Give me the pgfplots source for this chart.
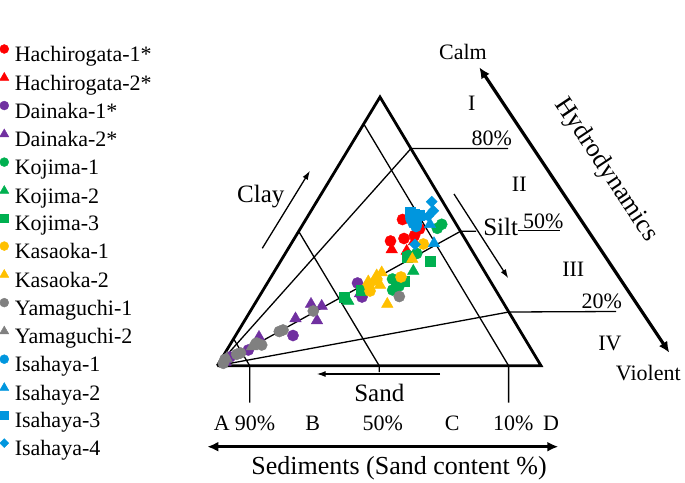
\documentclass[border=0pt]{standalone}
\usepackage{fontspec}
\setmainfont{Liberation Serif}
\usepackage{pgfplots}
\pgfplotsset{compat=1.18}
\usetikzlibrary{arrows.meta}
\definecolor{cred}{RGB}{255,0,0}
\definecolor{cpur}{RGB}{112,48,160}
\definecolor{cgrn}{RGB}{0,176,80}
\definecolor{cyel}{RGB}{255,192,0}
\definecolor{cgry}{RGB}{128,128,128}
\definecolor{cblu}{RGB}{0,150,222}
\pgfplotsset{
  leg/.style={legend image code/.code={\draw[##1, every mark/.append style={scale=0.8}] plot coordinates {(0pt,7.6pt)};}},
  ser/.style n args={3}{only marks, mark=#1, color=#2, mark size=#3, mark options={draw=#2, fill=#2, solid}, leg},
  dia/.style={only marks, mark=square*, color=#1, mark size=3.9, mark options={draw=#1, fill=#1, solid, rotate=45}, leg},
}
\newcommand{\fs}[1]{\fontsize{#1}{#1}\selectfont}
\begin{document}
\begin{tikzpicture}
\path[use as bounding box] (0,0) rectangle (685pt,482pt);
\begin{axis}[at={(0,0)}, anchor=south west, scale only axis, width=685pt, height=482pt,
  xmin=0, xmax=685, ymin=0, ymax=482, y dir=reverse, hide axis, clip=false,
  legend cell align=left,
  legend style={at={(axis cs:-0.5,44.3)}, anchor=north west, draw=none, fill=none, inner sep=0pt,
    font=\fs{22}, row sep=5.8pt,
    nodes={inner sep=0pt, text height=15pt, text depth=5pt},
    /tikz/every odd column/.append style={column sep=6pt}},
]
% triangle frame
\addplot[forget plot, black, line width=2.8pt] coordinates {(217.3,365.7) (380,97) (541,365.7) (217.3,365.7)};
% sand lines
\addplot[forget plot, black, line width=1.3pt] coordinates {(233.6,338.8) (249.7,365.7) (249.7,402.7)};
\addplot[forget plot, black, line width=1.3pt] coordinates {(298.7,231.4) (379.2,365.7) (379.2,372)};
\addplot[forget plot, black, line width=1.3pt] coordinates {(363.7,123.9) (508.6,365.7) (508.6,402.7)};
% ratio lines
\addplot[forget plot, black, line width=1.3pt] coordinates {(217.3,365.7) (411,148.5) (508,148.5)};
\addplot[forget plot, black, line width=1.3pt] coordinates {(217.3,365.7) (460.5,231.3) (476,231.3)};
\addplot[forget plot, black, line width=1.3pt] coordinates {(518,230.5) (560,230.5)};
\addplot[forget plot, black, line width=1.3pt] coordinates {(217.3,365.7) (508.8,312) (616,311.5)};
% arrows
\addplot[forget plot, black, line width=1.3pt, -{Latex[length=9pt,width=6pt]}] coordinates {(262.3,248.3) (310,170.7)};
\addplot[forget plot, black, line width=1.3pt, -{Latex[length=9pt,width=6pt]}] coordinates {(454,194) (508.3,278.3)};
\addplot[forget plot, black, line width=1.3pt, -{Latex[length=9pt,width=6pt]}] coordinates {(440,374) (316.7,374)};
\addplot[forget plot, black, line width=3.2pt, {Latex[length=11pt,width=10pt]}-{Latex[length=11pt,width=10pt]}] coordinates {(479.3,67.3) (669.3,352.7)};
\addplot[forget plot, black, line width=3pt, {Latex[length=11pt,width=10pt]}-{Latex[length=11pt,width=10pt]}] coordinates {(207.3,446.7) (558.3,446.7)};

% data
\addplot[ser={*}{cred}{5.6}] coordinates {(402.5,219.5) (419.5,229) (390.5,241) (404,238.5) (414.5,235.5)};
\addlegendentry{Hachirogata-1*}
\addplot[ser={triangle*}{cred}{6.6}] coordinates {(391.7,249.5) (406.7,251) (414,241.5)};
\addlegendentry{Hachirogata-2*}
\addplot[ser={*}{cpur}{5.6}] coordinates {(357.5,283) (362,297) (293,335.5) (248.3,350) (230,357)};
\addlegendentry{Dainaka-1*}
\addplot[ser={triangle*}{cpur}{6.6}] coordinates {(311,304) (321.7,306) (317,320.5) (295.5,318.5) (259,337) (225.5,362) (360,293.5)};
\addlegendentry{Dainaka-2*}
\addplot[ser={*}{cgrn}{5.6}] coordinates {(441.7,224.3) (437.3,228.3) (416.7,253.5) (392.5,279) (396.7,283.3) (392.7,290) (399,286) (408.3,255.5)};
\addlegendentry{Kojima-1}
\addplot[ser={triangle*}{cgrn}{6.6}] coordinates {(413.3,271) (348.3,301)};
\addlegendentry{Kojima-2}
\addplot[ser={square*}{cgrn}{5}] coordinates {(430.5,261.5) (407,257) (404,281.5) (344,297.5) (361.5,290)};
\addlegendentry{Kojima-3}
\addplot[ser={*}{cyel}{5.6}] coordinates {(423.3,244) (401,277) (370,291) (369,285) (376.7,280)};
\addlegendentry{Kasaoka-1}
\addplot[ser={triangle*}{cyel}{6.6}] coordinates {(412.3,259) (381.7,272.5) (376.7,275.5) (380,285) (387.3,304) (368.3,281.5)};
\addlegendentry{Kasaoka-2}
\addplot[ser={*}{cgry}{5.6}] coordinates {(399.3,296.5) (313.3,311) (283,330) (279.3,331.5) (261.7,345) (256.7,343) (236.7,354.3) (240.5,353) (225,359.3) (223.3,363.3)};
\addlegendentry{Yamaguchi-1}
\addplot[ser={triangle*}{cgry}{6.6}] coordinates {(226.7,358.3) (252,346.5)};
\addlegendentry{Yamaguchi-2}
\addplot[ser={*}{cblu}{5.6}] coordinates {(413.3,223.3) (416,226.5) (411,219)};
\addlegendentry{Isahaya-1}
\addplot[ser={triangle*}{cblu}{6.6}] coordinates {(423.3,216.7) (430,224.3) (434,243.3)};
\addlegendentry{Isahaya-2}
\addplot[ser={square*}{cblu}{5}] coordinates {(410,211.7) (414,214) (419.3,215) (416,220)};
\addlegendentry{Isahaya-3}
\addplot[dia=cblu] coordinates {(431.7,201.7) (433.3,210.7) (428.3,216) (415,244.3)};
\addlegendentry{Isahaya-4}

% text
\node[font=\fs{22}] at (axis cs:491.7,138.3) {80\%};
\node[font=\fs{22}] at (axis cs:543.3,221.7) {50\%};
\node[font=\fs{22}] at (axis cs:601.7,301.7) {20\%};
\node[font=\fs{25}] at (axis cs:500.7,226.7) {Silt};
\node[font=\fs{25}] at (axis cs:260.8,196.7) {Clay};
\node[font=\fs{25}] at (axis cs:379.3,393.3) {Sand};
\node[font=\fs{22}] at (axis cs:471.7,103.3) {I};
\node[font=\fs{22}] at (axis cs:519.3,184) {II};
\node[font=\fs{22}] at (axis cs:573.3,269.3) {III};
\node[font=\fs{22}] at (axis cs:610,343.3) {IV};
\node[font=\fs{22}] at (axis cs:463,52) {Calm};
\node[font=\fs{22}] at (axis cs:648.3,373.3) {Violent};
\node[font=\fs{26}, rotate=-56.3] at (axis cs:606,170) {Hydrodynamics};
\node[font=\fs{22}] at (axis cs:221.7,423.3) {A};
\node[font=\fs{22}] at (axis cs:255,423.3) {90\%};
\node[font=\fs{22}] at (axis cs:312.7,423.3) {B};
\node[font=\fs{22}] at (axis cs:382.7,423.3) {50\%};
\node[font=\fs{22}] at (axis cs:452.3,423.3) {C};
\node[font=\fs{22}] at (axis cs:513.3,423.3) {10\%};
\node[font=\fs{22}] at (axis cs:551,423.3) {D};
\node[font=\fs{26}] at (axis cs:399,468.3) {Sediments (Sand content \%)};
\end{axis}
\end{tikzpicture}
\end{document}
